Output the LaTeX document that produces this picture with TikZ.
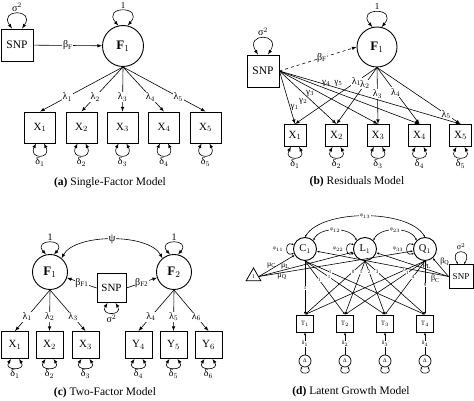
\documentclass[tikz,border=0pt]{standalone}
\usepackage{fontspec}
\setmainfont{Liberation Serif}
\usepackage{tikz}
\usetikzlibrary{arrows.meta, shapes.geometric}

\begin{document}
\begin{tikzpicture}[x=1pt, y=-1pt, line width=0.6pt,
    font=\fontsize{11}{13}\selectfont,
    obs/.style={draw, line width=0.9pt, inner sep=0pt},
    lat/.style={circle, draw, line width=0.9pt, inner sep=0pt},
    reg/.style={-latex},
    var/.style={latex-latex},
    lab/.style={fill=white, inner sep=0.6pt, font=\fontsize{10}{11}\selectfont},
    glab/.style={inner sep=0.4pt, font=\fontsize{9}{10}\selectfont},
    regd/.style={-{Latex[length=2.6pt,width=2.2pt]}},
    vard/.style={{Latex[length=2pt,width=1.8pt]}-{Latex[length=2pt,width=1.8pt]}},
    num/.style={fill=white, inner sep=0.3pt, font=\fontsize{5}{6}\selectfont},
    capt/.style={font=\fontsize{11.5}{13}\selectfont}]
    \useasboundingbox (0,0) rectangle (474,401);

    % (a) Single-factor model
    \node[obs, minimum size=32pt, font=\fontsize{11.5}{13}\selectfont] (snpA) at (17,45) {SNP};
    \node[lat, minimum size=41pt, font=\fontsize{13}{15}\selectfont] (fA) at (123,46) {\textbf{F}$_1$};
    \node[obs, minimum size=31pt] (xA1) at (40,127.5) {X$_1$};
    \node[obs, minimum size=31pt] (xA2) at (81.5,127.5) {X$_2$};
    \node[obs, minimum size=31pt] (xA3) at (122.5,127.5) {X$_3$};
    \node[obs, minimum size=31pt] (xA4) at (164,127.5) {X$_4$};
    \node[obs, minimum size=31pt] (xA5) at (205.5,127.5) {X$_5$};
    \draw[reg] (snpA) -- node[lab]{β$_\mathrm{F}$} (fA);
    \draw[reg] (fA.south) -- node[lab, pos=.67]{λ$_1$} (xA1.north);
    \draw[reg] (fA.south) -- node[lab, pos=.67]{λ$_2$} (xA2.north);
    \draw[reg] (fA.south) -- node[lab, pos=.67]{λ$_3$} (xA3.north);
    \draw[reg] (fA.south) -- node[lab, pos=.67]{λ$_4$} (xA4.north);
    \draw[reg] (fA.south) -- node[lab, pos=.67]{λ$_5$} (xA5.north);
    \draw[var] ([xshift=-5pt]snpA.north) .. controls +(-14,-20) and +(14,-20) .. ([xshift=5pt]snpA.north)
        node[midway, above=-1.5pt, font=\fontsize{10}{11}\selectfont]{σ$^2$};
    \draw[var] (fA.103) .. controls +(-17,-20) and +(17,-20) .. (fA.77)
        node[midway, above=-1.5pt, font=\fontsize{9}{10}\selectfont]{1};
    \foreach \n in {1,...,5}
        \draw[var] ([xshift=-4pt]xA\n.south) .. controls +(-8,16) and +(8,16) .. ([xshift=4pt]xA\n.south)
            node[midway, below=-1.5pt, font=\fontsize{10}{11}\selectfont]{δ$_\n$};
    \node[capt] (capA) at (110,183) {\textbf{(a)} Single-Factor Model};

    % (b) Residuals model
    \node[obs, minimum size=32pt, font=\fontsize{11.5}{13}\selectfont] (snpB) at (263,71) {SNP};
    \node[lat, minimum size=40pt, font=\fontsize{13}{15}\selectfont] (fB) at (377,47) {\textbf{F}$_1$};
    \node[obs, minimum size=22pt] (xB1) at (295,135.5) {X$_1$};
    \node[obs, minimum size=22pt] (xB2) at (336.5,135.5) {X$_2$};
    \node[obs, minimum size=22pt] (xB3) at (378,135.5) {X$_3$};
    \node[obs, minimum size=22pt] (xB4) at (419.5,135.5) {X$_4$};
    \node[obs, minimum size=22pt] (xB5) at (460.5,135.5) {X$_5$};
    \draw[reg, dashed] (snpB.east) -- node[lab, pos=.55]{β$_\mathrm{F}$} (fB.west);
    \draw[reg] (fB.south) -- node[lab, pos=.25]{λ$_1$} (xB1.north);
    \draw[reg] (fB.south) -- node[lab, pos=.3]{λ$_2$} (xB2.north);
    \draw[reg] (fB.south) -- node[lab, pos=.47]{λ$_3$} (xB3.north);
    \draw[reg] (fB.south) -- node[lab, pos=.44]{λ$_4$} (xB4.north);
    \draw[reg] (fB.south) -- node[lab, pos=.83]{λ$_5$} (xB5.north);
    \draw[reg] (snpB.east) -- node[glab, pos=.68, right]{γ$_1$} (xB1.north);
    \draw[reg] (snpB.east) -- node[glab, pos=.5, below left]{γ$_2$} (xB2.north);
    \draw[reg] (snpB.east) -- node[glab, pos=.36, below left]{γ$_3$} (xB3.north);
    \draw[reg] (snpB.east) -- node[glab, pos=.3, above right]{γ$_4$} (xB4.north);
    \draw[reg] (snpB.east) -- node[glab, pos=.3, above right]{γ$_5$} (xB5.north);
    \draw[var] ([xshift=-5pt]snpB.north) .. controls +(-14,-22) and +(14,-22) .. ([xshift=5pt]snpB.north)
        node[midway, above=-1.5pt, font=\fontsize{10}{11}\selectfont]{σ$^2$};
    \draw[var] (fB.103) .. controls +(-17,-20) and +(17,-20) .. (fB.77)
        node[midway, above=-1.5pt, font=\fontsize{9}{10}\selectfont]{1};
    \foreach \n in {1,...,5}
        \draw[var] ([xshift=-4pt]xB\n.south) .. controls +(-8,14) and +(8,14) .. ([xshift=4pt]xB\n.south)
            node[midway, below=-1.5pt, font=\fontsize{10}{11}\selectfont]{δ$_\n$};
    \node[capt] (capB) at (357,182) {\textbf{(b)} Residuals Model};

    % (c) Two-factor model
    \node[lat, minimum size=35pt, font=\fontsize{13}{15}\selectfont] (fC1) at (50,272) {\textbf{F}$_1$};
    \node[lat, minimum size=35pt, font=\fontsize{13}{15}\selectfont] (fC2) at (174,272) {\textbf{F}$_2$};
    \node[obs, minimum size=29pt, font=\fontsize{11}{13}\selectfont] (snpC) at (111.5,288) {SNP};
    \node[obs, minimum size=27pt] (xC1) at (15,345) {X$_1$};
    \node[obs, minimum size=27pt] (xC2) at (49.5,345) {X$_2$};
    \node[obs, minimum size=27pt] (xC3) at (85.5,345) {X$_3$};
    \node[obs, minimum size=27pt] (xC4) at (138.5,345) {Y$_4$};
    \node[obs, minimum size=27pt] (xC5) at (173.5,345) {Y$_5$};
    \node[obs, minimum size=27pt] (xC6) at (208.5,345) {Y$_6$};
    \draw[var] (fC1.50) .. controls +(14,-25) and +(-14,-25) .. node[lab, font=\fontsize{11}{13}\selectfont]{ψ} (fC2.130);
    \draw[reg] (snpC.west) -- node[lab]{β$_{\mathrm{F1}}$} (fC1);
    \draw[reg] (snpC.east) -- node[lab]{β$_{\mathrm{F2}}$} (fC2);
    \draw[reg] (fC1.south) -- node[lab, pos=.65]{λ$_1$} (xC1.north);
    \draw[reg] (fC1.south) -- node[lab, pos=.65]{λ$_2$} (xC2.north);
    \draw[reg] (fC1.south) -- node[lab, pos=.65]{λ$_3$} (xC3.north);
    \draw[reg] (fC2.south) -- node[lab, pos=.65]{λ$_4$} (xC4.north);
    \draw[reg] (fC2.south) -- node[lab, pos=.65]{λ$_5$} (xC5.north);
    \draw[reg] (fC2.south) -- node[lab, pos=.65]{λ$_6$} (xC6.north);
    \draw[var] (fC1.103) .. controls +(-14,-16) and +(14,-16) .. (fC1.77)
        node[midway, above=-1.5pt, font=\fontsize{10}{11}\selectfont]{1};
    \draw[var] (fC2.103) .. controls +(-14,-16) and +(14,-16) .. (fC2.77)
        node[midway, above=-1.5pt, font=\fontsize{10}{11}\selectfont]{1};
    \draw[var] ([xshift=-4pt]snpC.south) .. controls +(-8,13) and +(8,13) .. ([xshift=4pt]snpC.south)
        node[midway, below=-1.5pt, font=\fontsize{10}{11}\selectfont]{σ$^2$};
    \foreach \n in {1,...,6}
        \draw[var] ([xshift=-4pt]xC\n.south) .. controls +(-8,12) and +(8,12) .. ([xshift=4pt]xC\n.south)
            node[midway, below=-2pt, font=\fontsize{10}{11}\selectfont]{δ$_\n$};
    \node[capt] (capC) at (105,393) {\textbf{(c)} Two-Factor Model};

    % (d) Latent growth model
    \node[lat, minimum size=23pt, font=\fontsize{10.5}{12}\selectfont] (cD) at (305,249) {C$_1$};
    \node[lat, minimum size=23pt, font=\fontsize{10.5}{12}\selectfont] (lD) at (365,249) {L$_1$};
    \node[lat, minimum size=23pt, font=\fontsize{10.5}{12}\selectfont] (qD) at (425,249) {Q$_1$};
    \node[obs, minimum size=24pt, font=\fontsize{9}{10}\selectfont] (snpD) at (461,276.5) {SNP};
    \node[draw, regular polygon, regular polygon sides=3, minimum size=17pt, inner sep=0pt,
        line width=0.8pt, font=\fontsize{5.5}{6}\selectfont] (oneD) at (253.5,276.5) {1};
    \node[obs, minimum size=17pt, font=\fontsize{6.5}{7}\selectfont] (tD1) at (305,323.5) {T$_1$};
    \node[obs, minimum size=17pt, font=\fontsize{6.5}{7}\selectfont] (tD2) at (345,323.5) {T$_2$};
    \node[obs, minimum size=17pt, font=\fontsize{6.5}{7}\selectfont] (tD3) at (385,323.5) {T$_3$};
    \node[obs, minimum size=17pt, font=\fontsize{6.5}{7}\selectfont] (tD4) at (425,323.5) {T$_4$};
    % covariances
    \draw[vard] (cD.north) .. controls (322,209) and (408,209) .. node[num]{ψ$_{13}$} (qD.north);
    \draw[vard] (cD.45) .. controls +(6,-14) and +(-6,-14) .. node[num]{ψ$_{12}$} (lD.135);
    \draw[vard] (lD.45) .. controls +(6,-14) and +(-6,-14) .. node[num]{ψ$_{23}$} (qD.135);
    \draw[vard] (cD.160) .. controls +(-9,-4) and +(-9,4) .. (cD.200)
        node[midway, left=0pt, font=\fontsize{5}{6}\selectfont]{ψ$_{11}$};
    \draw[vard] (lD.160) .. controls +(-9,-4) and +(-9,4) .. (lD.200)
        node[midway, left=0pt, font=\fontsize{5}{6}\selectfont]{ψ$_{22}$};
    \draw[vard] (qD.160) .. controls +(-9,-4) and +(-9,4) .. (qD.200)
        node[midway, left=0pt, font=\fontsize{5}{6}\selectfont]{ψ$_{33}$};
    % means and SNP effects
    \draw[regd] (oneD.east) -- node[pos=.35, above, inner sep=0.5pt, font=\fontsize{8}{9}\selectfont]{μ$_\mathrm{C}$} (cD);
    \draw[regd] (oneD.east) -- node[pos=.28, above, inner sep=0.2pt, font=\fontsize{8}{9}\selectfont]{μ$_\mathrm{L}$} (lD);
    \draw[regd] (oneD.east) -- node[pos=.15, below, inner sep=0.5pt, font=\fontsize{8}{9}\selectfont]{μ$_\mathrm{Q}$} (qD);
    \draw[regd] (snpD.west) -- node[pos=.1, below, inner sep=1pt, font=\fontsize{8}{9}\selectfont]{β$_\mathrm{C}$} (cD);
    \draw[regd] (snpD.west) -- node[pos=.3, above, inner sep=0.5pt, font=\fontsize{8}{9}\selectfont]{β$_\mathrm{L}$} (lD);
    \draw[regd] (snpD.west) -- node[pos=.55, above right, inner sep=0.2pt, font=\fontsize{8}{9}\selectfont]{β$_\mathrm{Q}$} (qD);
    \draw[vard] ([xshift=-3pt]snpD.north) .. controls +(-10,-16) and +(10,-16) .. ([xshift=3pt]snpD.north)
        node[midway, above=-1.5pt, font=\fontsize{8}{9}\selectfont]{σ$^2$};
    % loadings
    \draw[regd] (cD.south) -- node[num, pos=.5]{1} (tD1.north);
    \draw[regd] (cD.south) -- node[num, pos=.36]{1} (tD2.north);
    \draw[regd] (cD.south) -- node[num, pos=.3]{1} (tD3.north);
    \draw[regd] (cD.south) -- node[num, pos=.21]{1} (tD4.north);
    \draw[regd] (lD.south) -- node[num, pos=.2]{0} (tD1.north);
    \draw[regd] (lD.south) -- node[num, pos=.2]{1} (tD2.north);
    \draw[regd] (lD.south) -- node[num, pos=.2]{2} (tD3.north);
    \draw[regd] (lD.south) -- node[num, pos=.2]{3} (tD4.north);
    \draw[regd] (qD.south) -- node[num, pos=.17]{0} (tD1.north);
    \draw[regd] (qD.south) -- node[num, pos=.22]{1} (tD2.north);
    \draw[regd] (qD.south) -- node[num, pos=.3]{4} (tD3.north);
    \draw[regd] (qD.south) -- node[num, pos=.45]{9} (tD4.north);
    % residuals
    \foreach \n/\x in {1/305,2/345,3/385,4/425} {
        \node[lat, minimum size=12pt, line width=0.7pt, font=\fontsize{5.5}{6}\selectfont] (eD\n) at (\x,361) {Δ};
        \draw[regd] (eD\n) -- node[num, font=\fontsize{5.5}{6}\selectfont]{δ$_\n$} (tD\n);
        \draw[vard] (eD\n.245) .. controls +(-5,8) and +(5,8) .. (eD\n.295);
    }
    \node[capt] (capD) at (351,392) {\textbf{(d)} Latent Growth Model};
\end{tikzpicture}
\end{document}
